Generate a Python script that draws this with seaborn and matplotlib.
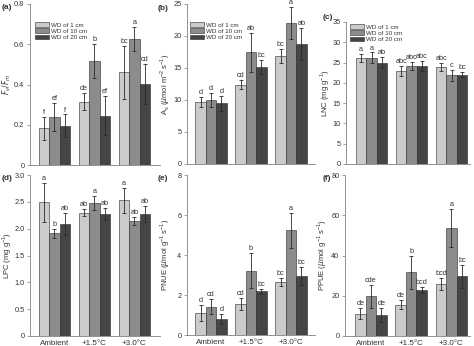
import numpy as np
import pandas as pd
import matplotlib
matplotlib.use("Agg")
import matplotlib.pyplot as plt
from matplotlib.container import BarContainer
import seaborn as sns

sns.set_theme(style="white")
plt.rcParams["font.family"] = ["Liberation Sans", "DejaVu Sans"]

treatments = ["Ambient", "+1.5\u00b0C", "+3.0\u00b0C"]
depths = ["WD of 1 cm", "WD of 10 cm", "WD of 20 cm"]
colors = ["#cbcbcb", "#8c8c8c", "#454545"]

# means per depth (rows) and warming treatment (columns), with SE and letters
fvfm = [[0.182, 0.315, 0.460], [0.237, 0.517, 0.626], [0.194, 0.245, 0.404]]
fvfm_se = [[0.057, 0.044, 0.133], [0.070, 0.084, 0.059], [0.057, 0.098, 0.100]]
fvfm_lab = [["f", "de", "bc"], ["ef", "b", "a"], ["f", "ef", "cd"]]

asat = [[9.7, 12.4, 16.9], [10.0, 17.45, 22.1], [9.5, 15.2, 18.7]]
asat_se = [[0.73, 0.7, 1.05], [1.1, 3.0, 2.5], [1.15, 1.1, 2.5]]
asat_lab = [["d", "cd", "bc"], ["d", "ab", "a"], ["d", "bc", "ab"]]

lnc = [[26.15, 23.0, 24.0], [26.15, 24.2, 21.9], [25.0, 24.2, 22.05]]
lnc_se = [[1.0, 1.2, 1.0], [1.35, 1.05, 1.35], [1.45, 1.25, 0.7]]
lnc_lab = [["a", "abc", "abc"], ["a", "abc", "c"], ["ab", "abc", "bc"]]

lpc = [[2.49, 2.30, 2.53], [1.91, 2.48, 2.14], [2.09, 2.28, 2.28]]
lpc_se = [[0.37, 0.07, 0.23], [0.085, 0.13, 0.07], [0.2, 0.11, 0.15]]
lpc_lab = [["a", "ab", "a"], ["b", "a", "ab"], ["ab", "ab", "ab"]]

pnue = [[1.11, 1.55, 2.65], [1.41, 3.21, 5.24], [0.80, 2.18, 2.95]]
pnue_se = [[0.40, 0.29, 0.19], [0.37, 0.87, 0.87], [0.25, 0.14, 0.46]]
pnue_lab = [["d", "cd", "bc"], ["cd", "b", "a"], ["d", "bc", "bc"]]

ppue = [[11.1, 15.6, 25.7], [19.7, 31.6, 53.6], [10.3, 23.0, 29.6]]
ppue_se = [[2.8, 2.3, 2.9], [5.6, 8.0, 9.3], [3.4, 1.4, 5.9]]
ppue_lab = [["de", "de", "bcd"], ["cde", "b", "a"], ["de", "bcd", "bc"]]

W, H = 474, 346
fig = plt.figure(figsize=(W / 100, H / 100), dpi=100)

text_c = "#333333"
spine_c = "#808080"

panels = [
    # (tag, means, se, letters, ylim, yticks, ylabel, box[l, r, top, bottom], xlim,
    #  tag_xy, legend_xy, ylabel_x)
    ("(a)", fvfm, fvfm_se, fvfm_lab, (0, 0.8), [0, 0.2, 0.4, 0.6, 0.8], r"$F_v/F_m$",
     (30, 160, 4, 165), (-0.61, 2.64), (2, 4), (35, 22), 7),
    ("(b)", asat, asat_se, asat_lab, (0, 25), [0, 5, 10, 15, 20, 25],
     r"A$_\mathregular{s}$ ($\mu$mol m$^\mathregular{-2}$ s$^\mathregular{-1}$)",
     (187, 315, 4, 164), (-0.6, 2.6), (158, 5), (190, 22), 165),
    ("(c)", lnc, lnc_se, lnc_lab, (0, 35), [0, 5, 10, 15, 20, 25, 30, 35],
     r"LNC (mg g$^\mathregular{-1}$)",
     (346, 470, 22, 164), (-0.64, 2.46), (323, 14), (350, 24), 325),
    ("(d)", lpc, lpc_se, lpc_lab, (0, 3.0), [0, 0.5, 1.0, 1.5, 2.0, 2.5, 3.0],
     r"LPC (mg g$^\mathregular{-1}$)",
     (30, 160, 175, 336), (-0.61, 2.64), (2, 175), None, 7),
    ("(e)", pnue, pnue_se, pnue_lab, (0, 8), [0, 2, 4, 6, 8],
     r"PNUE ($\mu$mol g$^\mathregular{-1}$ s$^\mathregular{-1}$)",
     (187, 315, 175, 335), (-0.6, 2.6), (158, 175), None, 165),
    ("(f)", ppue, ppue_se, ppue_lab, (0, 80), [0, 20, 40, 60, 80],
     r"PPUE ($\mu$mol g$^\mathregular{-1}$ s$^\mathregular{-1}$)",
     (345, 470, 175, 336), (-0.64, 2.46), (323, 175), None, 322),
]

for idx, (tag, means, se, labs, ylim, yticks, ylabel, box, xlim, tag_xy, leg_xy, ylab_x) in enumerate(panels):
    l, r, t, b = box
    ax = fig.add_axes([l / W, 1 - b / H, (r - l) / W, (b - t) / H])
    df = pd.DataFrame({
        "Treatment": [tr for d in range(3) for tr in treatments],
        "WD": [depths[d] for d in range(3) for _ in treatments],
        "value": [means[d][k] for d in range(3) for k in range(3)],
    })
    sns.barplot(data=df, x="Treatment", y="value", hue="WD", order=treatments,
                hue_order=depths, palette=colors, errorbar=None, width=0.78,
                edgecolor="#2a2a2a", linewidth=0.4, ax=ax, legend=(leg_xy is not None))
    span = ylim[1] - ylim[0]
    bar_groups = [c for c in ax.containers if isinstance(c, BarContainer)]
    for d, cont in enumerate(bar_groups):
        for k, bar in enumerate(cont.patches):
            xc = bar.get_x() + bar.get_width() / 2
            ax.errorbar(xc, means[d][k], yerr=se[d][k], fmt="none", ecolor="#2a2a2a",
                        elinewidth=0.6, capsize=1.4, capthick=0.6, zorder=5)
            ax.text(xc, means[d][k] + se[d][k] + span * 0.006, labs[d][k],
                    ha="center", va="bottom", fontsize=5.3, color=text_c)
    ax.set_xlim(*xlim)
    ax.set_ylim(*ylim)
    ax.set_yticks(yticks)
    ax.set_yticklabels([f"{v:g}" if not isinstance(v, float) or v == 0 else f"{v:.1f}" for v in yticks])
    ax.set_ylabel(ylabel, fontsize=5.5, color=text_c, va="center")
    ax.yaxis.set_label_coords((ylab_x - l) / (r - l), 0.5)
    ax.set_xlabel("")
    ax.tick_params(axis="y", length=2, width=0.5, color=spine_c, labelsize=5.3,
                   labelcolor=text_c, pad=2, left=True)
    ax.tick_params(axis="x", length=0, labelsize=5.8, labelcolor=text_c, pad=3)
    if idx < 3:
        ax.set_xticklabels([])
    for s in ["top", "right"]:
        ax.spines[s].set_visible(False)
    for s in ["left", "bottom"]:
        ax.spines[s].set_color(spine_c)
        ax.spines[s].set_linewidth(0.6)
    fig.text(tag_xy[0] / W, 1 - tag_xy[1] / H, tag, fontsize=6, fontweight="bold",
             color=text_c, ha="left", va="top")
    if leg_xy is not None:
        leg = ax.legend(loc="upper left", bbox_to_anchor=(leg_xy[0] / W, 1 - leg_xy[1] / H),
                        bbox_transform=fig.transFigure, frameon=False, fontsize=4.5,
                        handlelength=2.3, handleheight=0.8, handletextpad=0.3,
                        labelspacing=0.12, borderpad=0, borderaxespad=0)
        for txt in leg.get_texts():
            txt.set_color(text_c)

fig.savefig("out.png", dpi=100)
